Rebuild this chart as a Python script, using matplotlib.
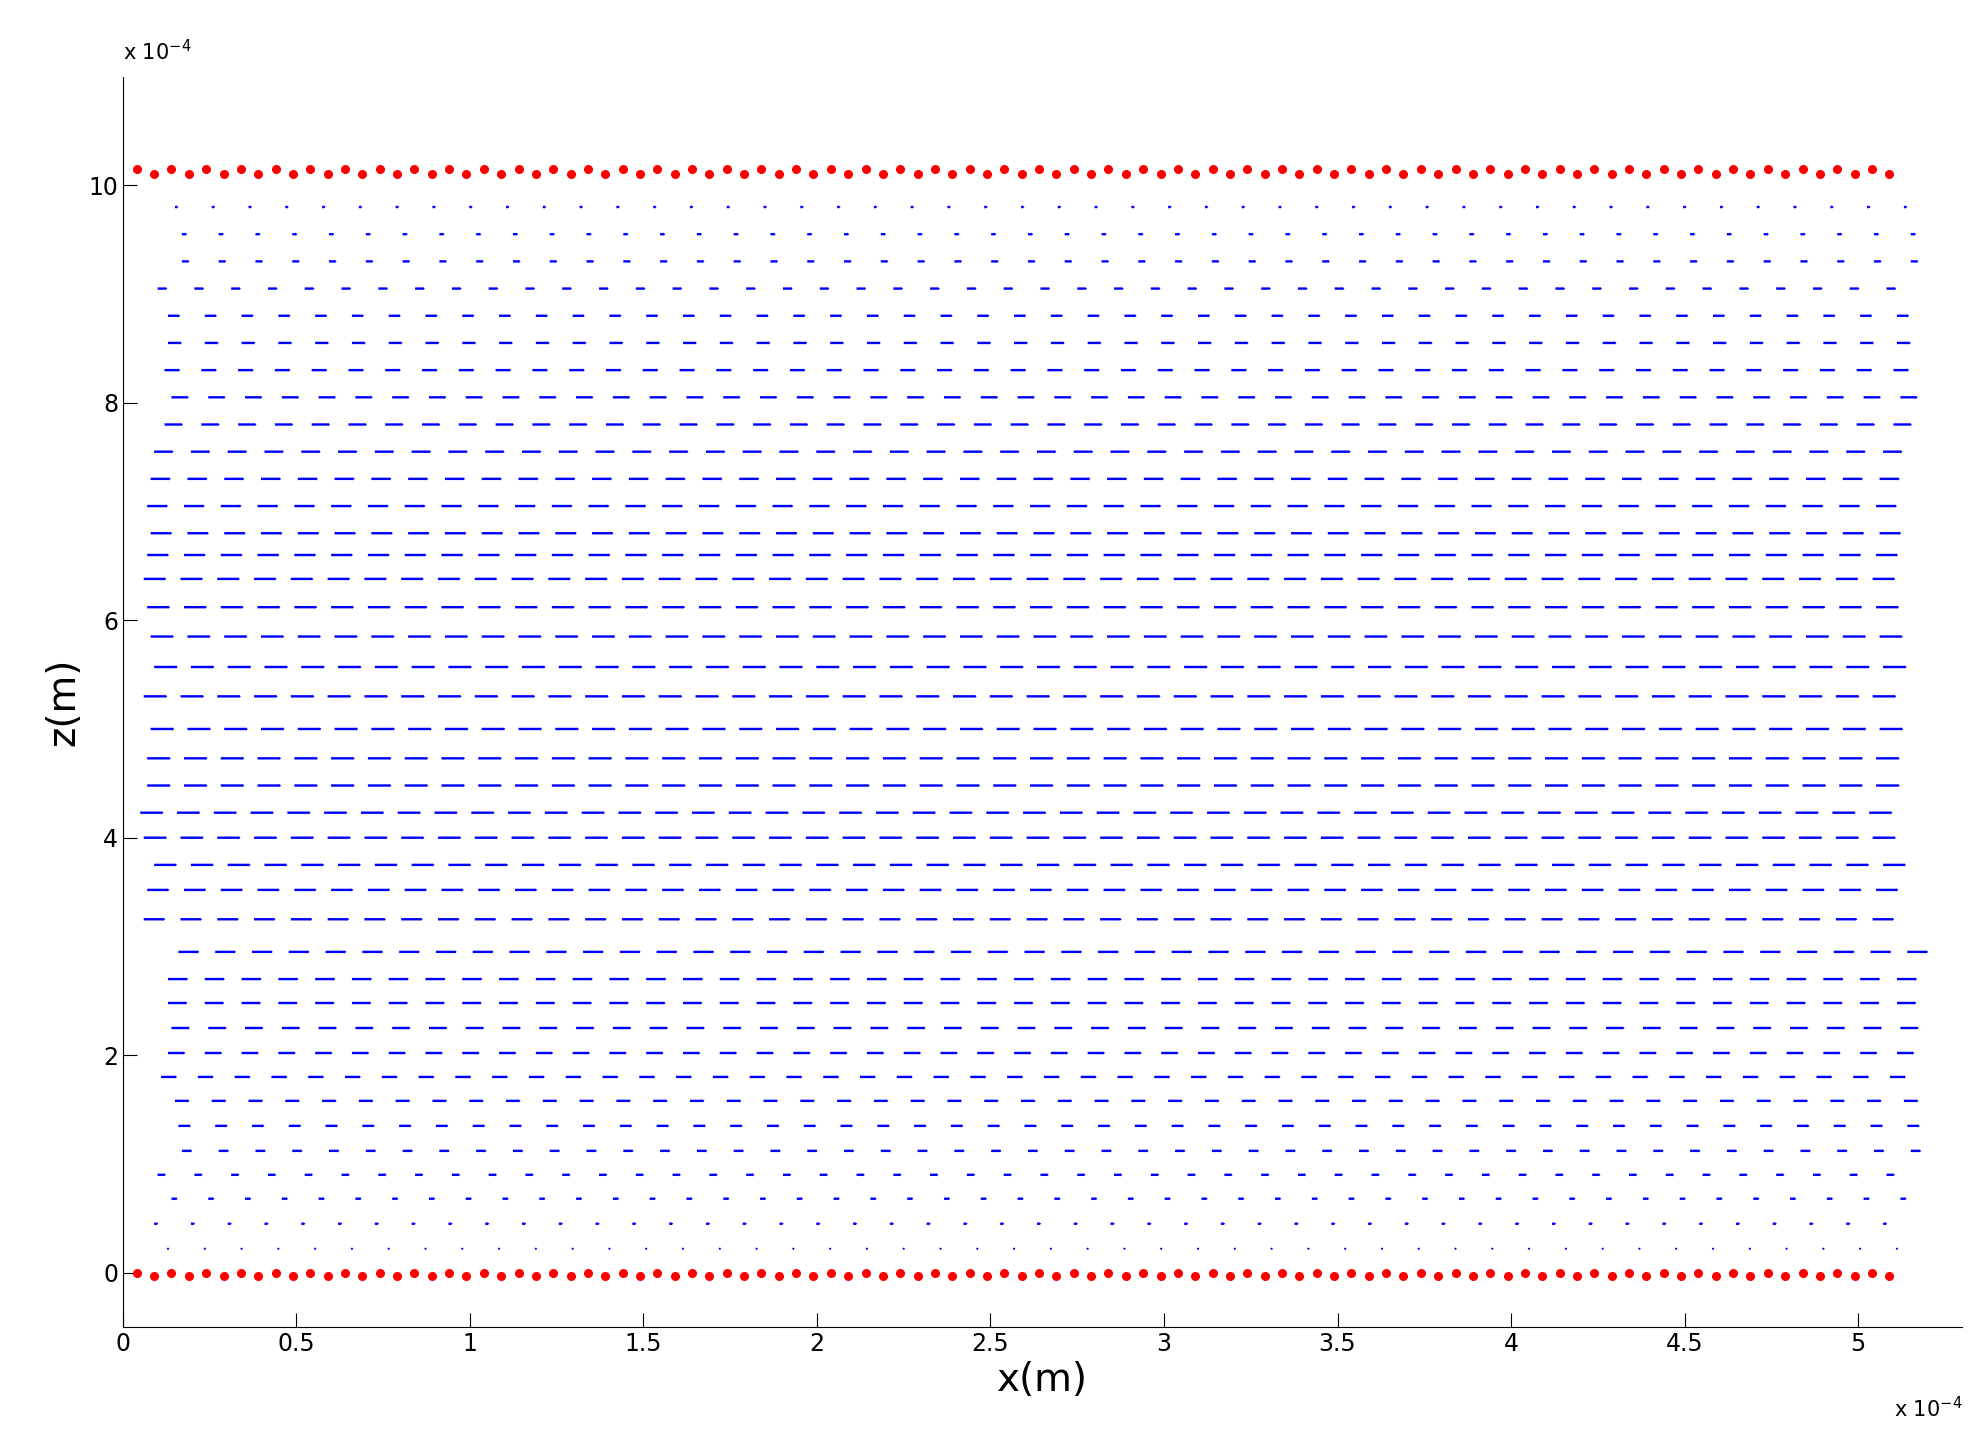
import numpy as np
import matplotlib
matplotlib.use('Agg')
import matplotlib.pyplot as plt

# rows of velocity vectors (units of 1e-4 m)
row_z = [9.80, 9.55, 9.30, 9.05, 8.80, 8.55, 8.30, 8.05, 7.80, 7.55,
         7.30, 7.05, 6.80, 6.60, 6.38, 6.12, 5.85, 5.57, 5.30, 5.00,
         4.73, 4.48, 4.23, 4.00, 3.75, 3.52, 3.25, 2.95, 2.70, 2.48,
         2.25, 2.02, 1.80, 1.58, 1.35, 1.12, 0.90, 0.68, 0.45, 0.22]
row_len = [0.010, 0.015, 0.022, 0.028, 0.035, 0.040, 0.045, 0.050, 0.053, 0.056,
           0.058, 0.060, 0.062, 0.063, 0.065, 0.066, 0.067, 0.068, 0.068, 0.068,
           0.068, 0.068, 0.067, 0.067, 0.066, 0.064, 0.062, 0.060, 0.058, 0.056,
           0.053, 0.050, 0.046, 0.042, 0.036, 0.030, 0.024, 0.018, 0.012, 0.006]
row_x0 = [0.15, 0.17, 0.17, 0.10, 0.13, 0.13, 0.12, 0.14, 0.12, 0.09,
          0.08, 0.07, 0.08, 0.07, 0.06, 0.07, 0.08, 0.09, 0.06, 0.08,
          0.07, 0.07, 0.05, 0.06, 0.09, 0.07, 0.06, 0.16, 0.13, 0.13,
          0.14, 0.13, 0.11, 0.15, 0.16, 0.17, 0.10, 0.14, 0.09, 0.13]
row_n = 48
row_dx = 0.106

# wall particles
top_z = [10.15, 10.10]
bot_z = [0.00, -0.03]
wall_x0 = 0.04
wall_dx = 0.05
wall_n = 102

fig = plt.figure(figsize=(19.82, 14.44), dpi=100)
ax = fig.add_axes([0.062, 0.081, 0.928, 0.866])

X, Z, U = [], [], []
for z, L, x0 in zip(row_z, row_len, row_x0):
    xs = x0 + row_dx * np.arange(row_n)
    X.extend(xs)
    Z.extend([z] * row_n)
    U.extend([L] * row_n)
X = np.array(X); Z = np.array(Z); U = np.array(U)
ax.quiver(X, Z, U, np.zeros_like(U), angles='xy', scale_units='xy', scale=1,
          color='blue', width=0.0013, headwidth=1.4, headlength=0.8, headaxislength=0.8)

wx = wall_x0 + wall_dx * np.arange(wall_n)
ax.plot(wx, [top_z[i % 2] for i in range(wall_n)], 'r.', ms=11)
ax.plot(wx, [bot_z[i % 2] for i in range(wall_n)], 'r.', ms=11)

ax.set_xlim(0, 5.3)
ax.set_ylim(-0.5, 11)
ax.set_xticks(np.arange(0, 5.01, 0.5))
ax.set_xticklabels(['0', '0.5', '1', '1.5', '2', '2.5', '3', '3.5', '4', '4.5', '5'])
ax.set_yticks([0, 2, 4, 6, 8, 10])
ax.tick_params(labelsize=17, direction='in', length=10, top=False, right=False)
for s in ['top', 'right']:
    ax.spines[s].set_visible(False)
ax.set_xlabel('x(m)', fontsize=28)
ax.set_ylabel('z(m)', fontsize=28)
ax.text(0.0, 1.01, r'x 10$^{-4}$', transform=ax.transAxes, fontsize=15, va='bottom')
ax.text(1.0, -0.055, r'x 10$^{-4}$', transform=ax.transAxes, fontsize=15, ha='right', va='top')

fig.savefig('out.png', dpi=100)
